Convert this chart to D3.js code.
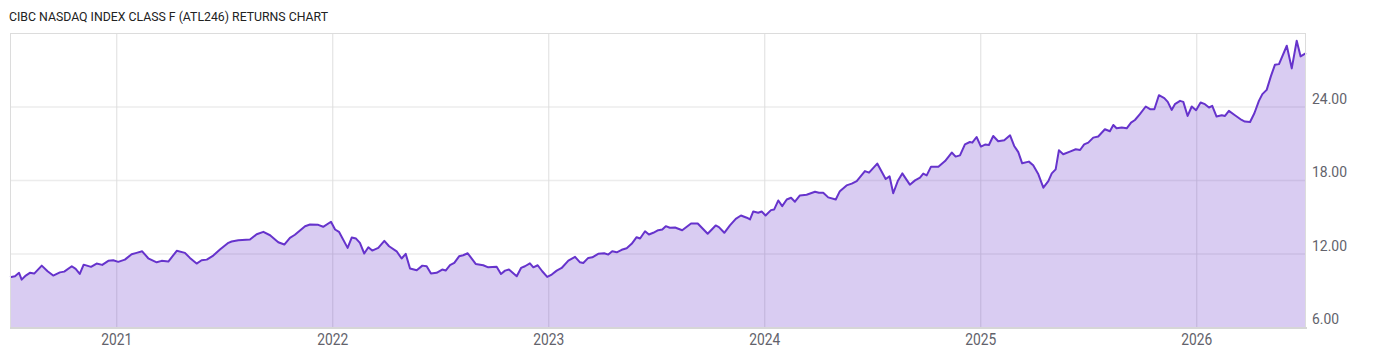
<!DOCTYPE html>
<html>
<head>
<meta charset="utf-8">
<script src="https://cdn.jsdelivr.net/npm/d3@7"></script>
<style>
html, body { margin: 0; padding: 0; background: #fff; }
svg { display: block; }
</style>
</head>
<body>
<svg id="chart" width="1400" height="357"></svg>
<script>
const title = "CIBC NASDAQ INDEX CLASS F (ATL246) RETURNS CHART";

// Dates as decimal years
const dates = [
2020.508,2020.531,2020.550,2020.562,2020.581,2020.600,2020.620,2020.655,2020.682,2020.708,
2020.739,2020.759,2020.794,2020.812,2020.831,2020.849,2020.883,2020.909,2020.935,2020.963,
2020.986,2021.009,2021.040,2021.071,2021.094,2021.120,2021.148,2021.187,2021.210,2021.241,
2021.280,2021.318,2021.341,2021.372,2021.395,2021.419,2021.449,2021.480,2021.519,2021.534,
2021.565,2021.619,2021.650,2021.681,2021.712,2021.750,2021.778,2021.804,2021.827,2021.874,
2021.897,2021.935,2021.958,2021.994,2022.013,2022.031,2022.071,2022.090,2022.110,2022.128,
2022.148,2022.167,2022.185,2022.213,2022.241,2022.263,2022.298,2022.321,2022.340,2022.360,
2022.391,2022.417,2022.437,2022.457,2022.483,2022.509,2022.525,2022.545,2022.565,2022.587,
2022.606,2022.627,2022.664,2022.699,2022.722,2022.761,2022.781,2022.800,2022.818,2022.854,
2022.874,2022.892,2022.915,2022.931,2022.951,2022.972,2022.995,2023.016,2023.039,2023.062,
2023.093,2023.124,2023.147,2023.162,2023.185,2023.204,2023.231,2023.259,2023.278,2023.296,
2023.317,2023.340,2023.363,2023.386,2023.409,2023.425,2023.448,2023.466,2023.486,2023.509,
2023.528,2023.544,2023.563,2023.587,2023.620,2023.661,2023.692,2023.738,2023.775,2023.790,
2023.815,2023.841,2023.868,2023.892,2023.919,2023.934,2023.949,2023.972,2023.988,2024.006,
2024.031,2024.046,2024.065,2024.083,2024.104,2024.124,2024.142,2024.165,2024.196,2024.235,
2024.253,2024.273,2024.296,2024.331,2024.350,2024.381,2024.405,2024.428,2024.466,2024.485,
2024.523,2024.562,2024.580,2024.597,2024.618,2024.639,2024.674,2024.698,2024.721,2024.736,
2024.752,2024.772,2024.806,2024.837,2024.868,2024.886,2024.906,2024.929,2024.952,2024.963,
2024.983,2025.003,2025.022,2025.040,2025.060,2025.083,2025.111,2025.138,2025.157,2025.176,
2025.194,2025.225,2025.245,2025.269,2025.292,2025.315,2025.331,2025.349,2025.364,2025.384,
2025.415,2025.442,2025.462,2025.481,2025.500,2025.523,2025.546,2025.577,2025.600,2025.616,
2025.631,2025.655,2025.678,2025.698,2025.716,2025.739,2025.766,2025.786,2025.806,2025.827,
2025.852,2025.868,2025.886,2025.901,2025.925,2025.940,2025.960,2025.979,2025.999,2026.020,
2026.040,2026.059,2026.074,2026.094,2026.118,2026.133,2026.151,2026.179,2026.210,2026.225,
2026.249,2026.269,2026.290,2026.306,2026.326,2026.346,2026.364,2026.383,2026.419,2026.442,
2026.465,2026.483,2026.508
];

const values = [
10.06,10.14,10.42,9.87,10.20,10.42,10.36,11.01,10.55,10.20,
10.46,10.52,10.96,10.74,10.33,11.09,10.91,11.18,11.07,11.40,
11.45,11.32,11.50,11.94,12.05,12.18,11.61,11.28,11.40,11.34,
12.22,12.05,11.64,11.18,11.45,11.50,11.83,12.32,12.87,12.98,
13.08,13.14,13.57,13.77,13.49,12.92,12.73,13.28,13.53,14.23,
14.37,14.34,14.18,14.59,13.96,13.77,12.46,13.30,13.22,12.87,
12.00,12.51,12.24,12.46,13.03,12.59,12.18,11.59,11.97,10.77,
10.63,11.01,10.96,10.36,10.42,10.69,10.61,11.05,11.23,11.77,
11.86,12.02,11.15,11.04,10.87,10.91,10.33,10.60,10.69,10.14,
10.82,10.96,11.20,10.87,11.04,10.55,10.09,10.28,10.60,10.82,
11.42,11.73,11.28,11.23,11.64,11.69,11.97,12.02,11.91,12.18,
12.10,12.30,12.43,12.79,13.33,13.22,13.82,13.55,13.69,13.90,
13.96,14.23,14.10,14.12,13.90,14.45,14.45,13.61,14.29,14.15,
13.69,14.29,14.83,15.10,14.92,14.78,15.43,15.33,15.43,15.10,
15.54,15.60,16.33,15.87,16.41,16.55,16.23,16.74,16.80,17.04,
16.96,16.96,16.58,16.41,17.09,17.56,17.70,17.91,18.73,18.60,
19.34,18.08,18.30,16.92,17.91,18.54,17.62,17.97,18.19,18.52,
18.38,19.09,19.09,19.55,20.24,19.91,20.01,20.91,21.10,21.05,
21.51,20.73,20.89,20.86,21.59,21.16,21.24,21.65,20.78,20.28,
19.36,19.50,19.20,18.46,17.37,17.91,18.54,18.87,20.42,20.10,
20.32,20.51,20.45,20.91,21.05,21.46,21.55,22.14,21.98,22.49,
22.22,22.28,22.22,22.69,22.90,23.37,24.00,23.78,23.78,24.92,
24.68,24.38,23.72,24.19,24.46,24.38,23.23,24.00,23.70,24.33,
24.19,23.92,24.05,23.18,23.29,23.23,23.64,23.29,22.90,22.77,
22.74,23.45,24.46,25.01,25.36,26.50,27.40,27.46,28.96,27.11,
29.37,28.09,28.36
];

const yTicks = [6, 12, 18, 24];
const xTicks = [2021, 2022, 2023, 2024, 2025, 2026];

const data = dates.map((d, i) => ({ t: d, v: values[i] }));

const svg = d3.select("#chart");
const pLeft = 10, pRight = 1306, pTop = 33, pBottom = 327;

const x = d3.scaleLinear().domain([dates[0], dates[dates.length - 1]]).range([pLeft, pRight]);
const y = d3.scaleLinear().domain([6, 30]).range([pBottom, pTop]);

// Title
svg.append("text")
  .attr("x", 9).attr("y", 21)
  .attr("font-family", "Roboto, sans-serif")
  .attr("font-size", 13.5)
  .attr("fill", "#222")
  .attr("textLength", 319)
  .attr("lengthAdjust", "spacingAndGlyphs")
  .text(title);

// Horizontal gridlines
const gy = svg.append("g").attr("transform", `translate(${pLeft},0)`)
  .call(d3.axisRight(y).tickValues(yTicks.filter(v => v > 6)).tickSize(pRight - pLeft).tickFormat(""));
gy.select(".domain").remove();
gy.selectAll(".tick line").attr("stroke", "#ececec").attr("stroke-width", 1.5);

// Vertical gridlines
const gx = svg.append("g").attr("transform", `translate(0,${pBottom})`)
  .call(d3.axisBottom(x).tickValues(xTicks).tickSize(-(pBottom - pTop)).tickFormat(""));
gx.select(".domain").remove();
gx.selectAll(".tick line").attr("stroke", "#dedede").attr("stroke-width", 1);

// Area
const area = d3.area().x(d => x(d.t)).y0(y(6)).y1(d => y(d.v));
svg.append("path").datum(data)
  .attr("d", area)
  .attr("fill", "rgba(102,51,204,0.25)");

// Line
const line = d3.line().x(d => x(d.t)).y(d => y(d.v));
svg.append("path").datum(data)
  .attr("d", line)
  .attr("fill", "none")
  .attr("stroke", "#6633cc")
  .attr("stroke-width", 2)
  .attr("stroke-linejoin", "round");

// Frame
svg.append("rect")
  .attr("x", pLeft + 0.5).attr("y", pTop + 0.5)
  .attr("width", pRight - pLeft - 1).attr("height", pBottom - pTop)
  .attr("fill", "none").attr("stroke", "#dcdcdc").attr("stroke-width", 1);
svg.append("line")
  .attr("x1", pLeft).attr("x2", pRight + 1).attr("y1", pBottom + 1).attr("y2", pBottom + 1)
  .attr("stroke", "#d6d6d6").attr("stroke-width", 2);

// Y axis labels
const ya = svg.append("g").attr("transform", `translate(${pRight},0)`)
  .call(d3.axisRight(y).tickValues(yTicks).tickSize(0).tickPadding(6).tickFormat(d3.format(".2f")));
ya.select(".domain").remove();
ya.selectAll("text")
  .attr("dy", "-0.2em")
  .attr("font-family", "Roboto, sans-serif")
  .attr("font-size", 15.5)
  .attr("fill", "#62626b")
  .attr("textLength", d => d >= 10 ? 35 : 27)
  .attr("lengthAdjust", "spacingAndGlyphs");

// X axis labels
const xa = svg.append("g").attr("transform", `translate(0,${pBottom})`)
  .call(d3.axisBottom(x).tickValues(xTicks).tickSize(0).tickPadding(6).tickFormat(d3.format("d")));
xa.select(".domain").remove();
xa.selectAll("text")
  .attr("font-family", "Roboto, sans-serif")
  .attr("font-size", 17)
  .attr("fill", "#62626b")
  .attr("textLength", 31)
  .attr("lengthAdjust", "spacingAndGlyphs");
</script>
</body>
</html>
